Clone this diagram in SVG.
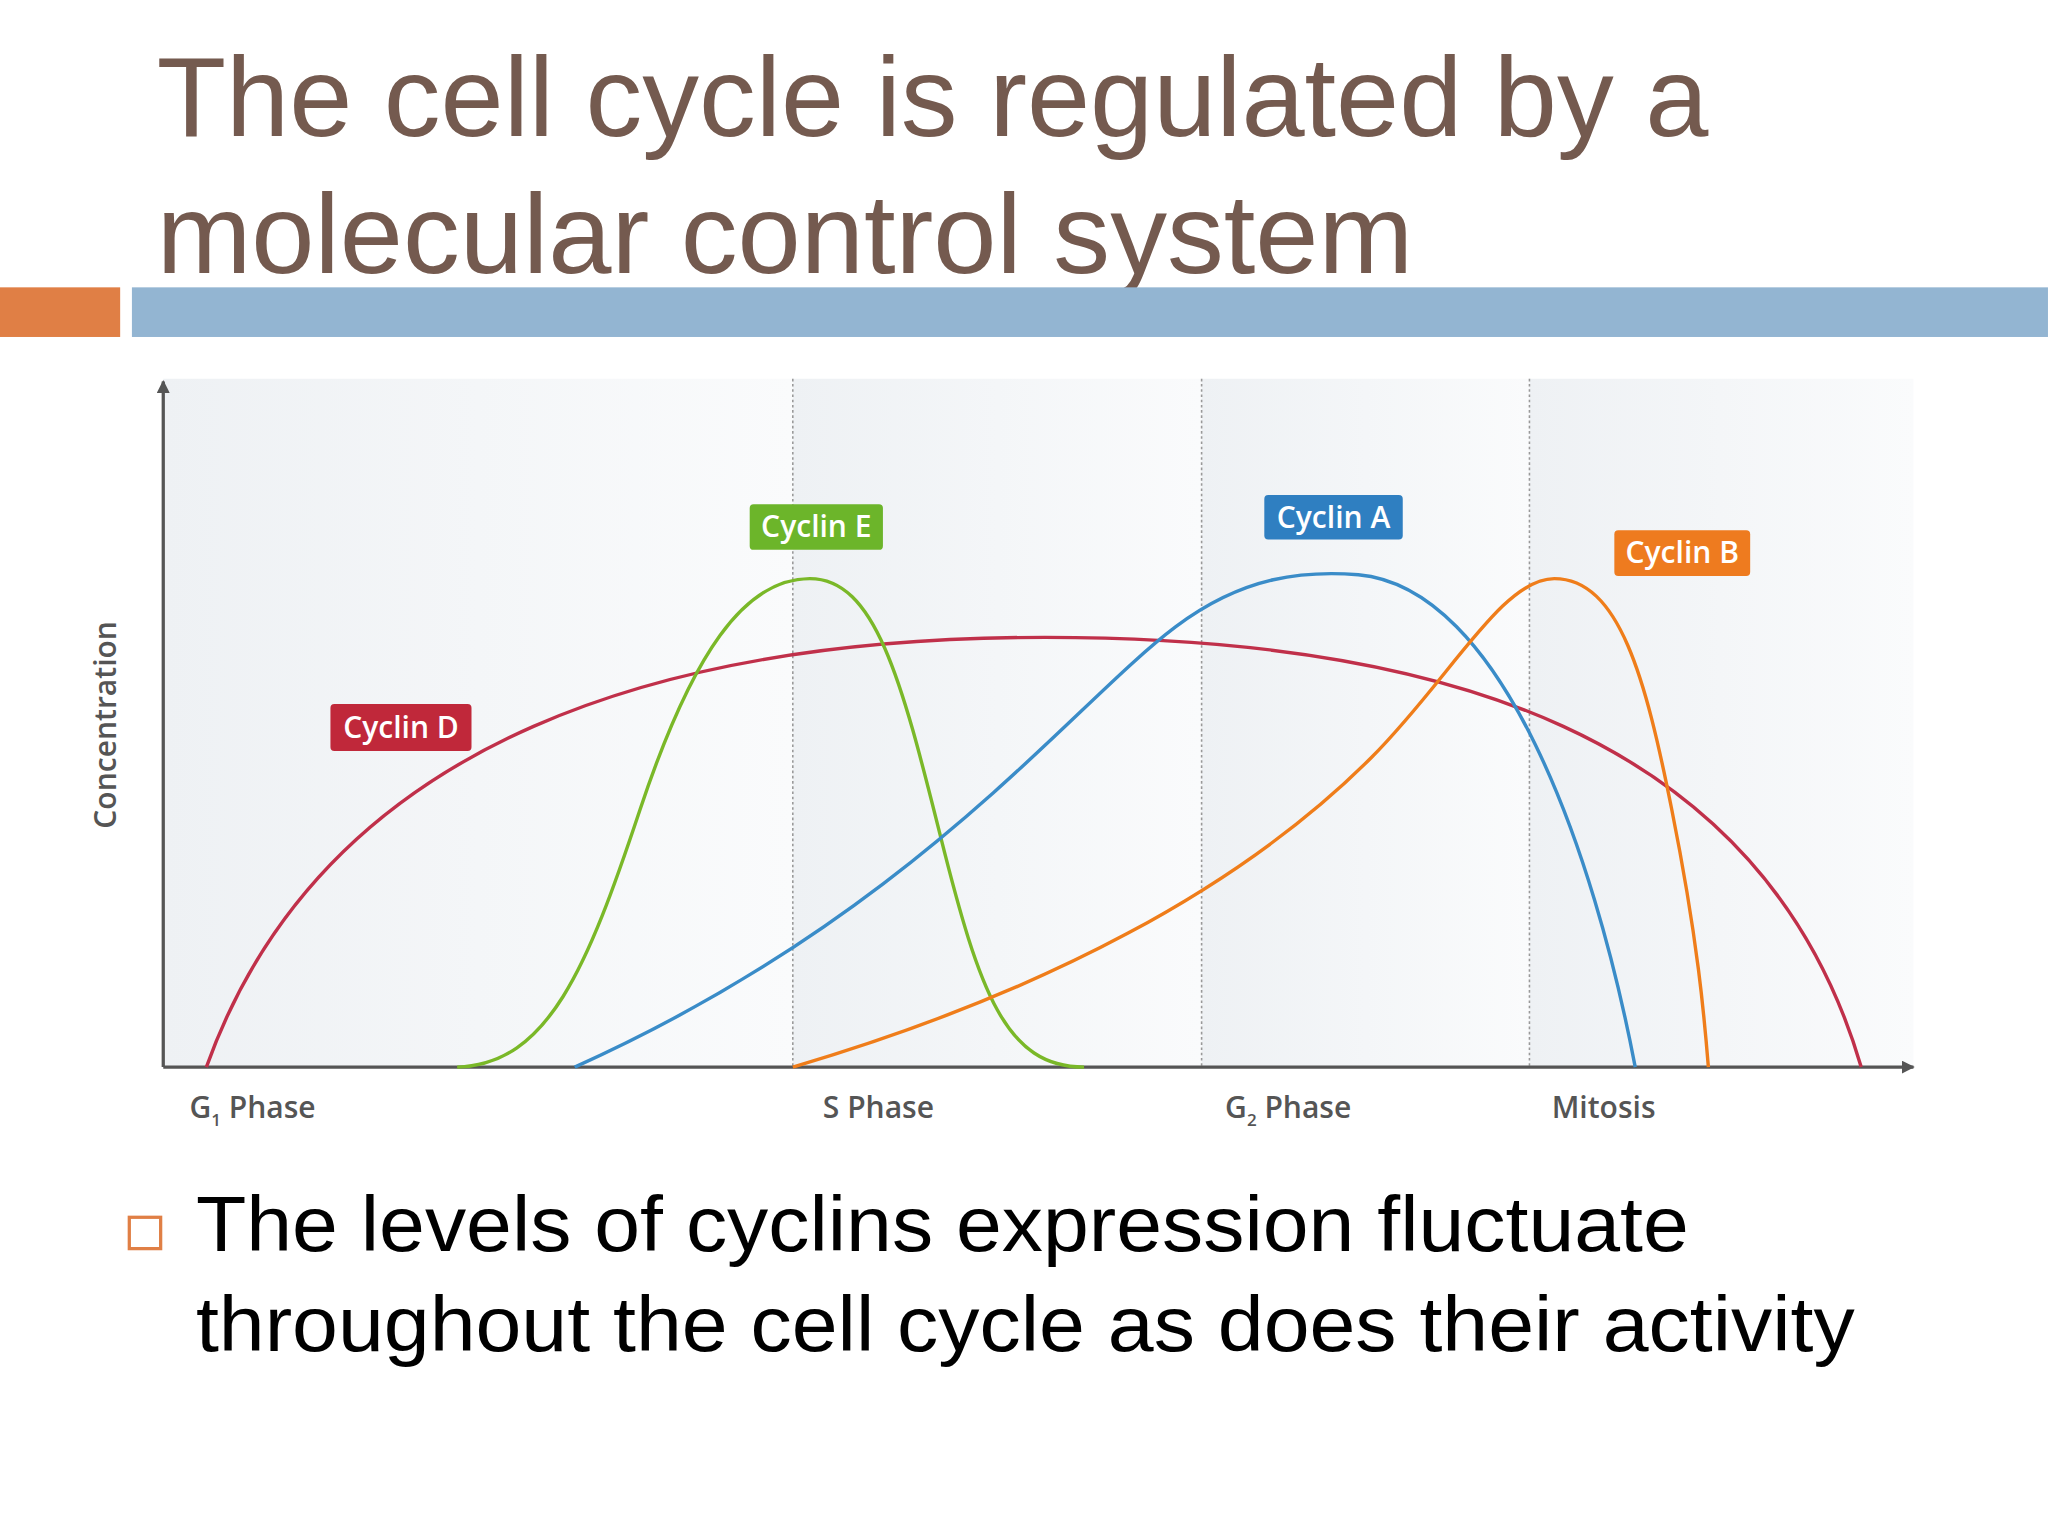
<svg xmlns="http://www.w3.org/2000/svg" width="2048" height="1536" viewBox="0 0 2048 1536">
<defs>
<style>
.title{font-family:"Liberation Sans",Arial,sans-serif;font-size:86px;fill:#745a4f}
.ax{font-family:"Open Sans","DejaVu Sans",sans-serif;font-size:23px;fill:#555;font-weight:600}
.lab{font-family:"Open Sans","DejaVu Sans",sans-serif;font-size:23px;fill:#fff;font-weight:600}
.body{font-family:"Liberation Sans",Arial,sans-serif;font-size:59px;fill:#000}
.curve{fill:none;stroke-width:2.6}
</style>
<linearGradient id="bg" x1="0" y1="0" x2="1" y2="0">
<stop offset="0" stop-color="#eef1f4"/><stop offset="1" stop-color="#fafbfc"/>
</linearGradient>
<marker id="ar" markerWidth="10" markerHeight="10" refX="9" refY="5" orient="auto" markerUnits="userSpaceOnUse">
<path d="M0,0 L10,5 L0,10 z" fill="#555"/>
</marker>
</defs>
<rect width="2048" height="1536" fill="#fff"/>
<g transform="scale(1.3061)">
<g id="title">
<text class="title" x="120" y="104" textLength="1188" lengthAdjust="spacingAndGlyphs">The cell cycle is regulated by a</text>
<text class="title" x="120" y="209" textLength="962" lengthAdjust="spacingAndGlyphs">molecular control system</text>
</g>
<rect x="0" y="220" width="92" height="38" fill="#e07f45"/>
<rect x="101" y="220" width="1467" height="38" fill="#93b5d2"/>
<g id="chart">
<rect x="125" y="290" width="482" height="527" fill="url(#bg)"/>
<rect x="607" y="290" width="313" height="527" fill="url(#bg)"/>
<rect x="920" y="290" width="251" height="527" fill="url(#bg)"/>
<rect x="1171" y="290" width="294" height="527" fill="url(#bg)"/>
<g stroke="#999" stroke-width="1.2" stroke-dasharray="2,2">
<line x1="607" y1="290" x2="607" y2="817"/>
<line x1="920" y1="290" x2="920" y2="817"/>
<line x1="1171" y1="290" x2="1171" y2="817"/>
</g>
</g>
<g id="connectors">
<line x1="125" y1="817" x2="125" y2="292" stroke="#555" stroke-width="2.5" marker-end="url(#ar)"/>
<line x1="125" y1="817" x2="1465" y2="817" stroke="#555" stroke-width="2.5" marker-end="url(#ar)"/>
<path class="curve" stroke="#c0304a" d="M158,817 C250,560 520,488 800,488 C1100,488 1350,560 1425,817"/>
<path class="curve" stroke="#7ab828" d="M350,817 C420,815 450,740 490,620 C530,500 570,443 620,443 C670,443 690,520 720,640 C750,760 770,817 830,817"/>
<path class="curve" stroke="#3a8cc8" d="M440,817 C700,700 820,540 900,480 C953,440 1000,437 1040,440 C1150,450 1220,650 1252,817"/>
<path class="curve" stroke="#ef7d1a" d="M607,817 C800,760 950,680 1050,580 C1110,520 1150,443 1190,443 C1240,443 1260,520 1280,620 C1300,720 1305,780 1308,817"/>
</g>
<g id="cyclinE"><rect x="574" y="386" width="102" height="35" rx="3" fill="#6cb52a"/><text class="lab" x="625" y="411" text-anchor="middle">Cyclin E</text></g>
<g id="cyclinA"><rect x="968" y="379" width="106" height="34" rx="3" fill="#2f7fc1"/><text class="lab" x="1021" y="404" text-anchor="middle">Cyclin A</text></g>
<g id="cyclinB"><rect x="1236" y="406" width="104" height="35" rx="3" fill="#ee7b1f"/><text class="lab" x="1288" y="431" text-anchor="middle">Cyclin B</text></g>
<g id="cyclinD"><rect x="253" y="539" width="108" height="36" rx="3" fill="#c0283a"/><text class="lab" x="307" y="565" text-anchor="middle">Cyclin D</text></g>
<text class="ax" transform="translate(89,555) rotate(-90)" text-anchor="middle">Concentration</text>
<text class="ax" x="145" y="856">G<tspan font-size="13" dy="6">1</tspan><tspan dy="-6"> Phase</tspan></text>
<text class="ax" x="630" y="856">S Phase</text>
<text class="ax" x="938" y="856">G<tspan font-size="13" dy="6">2</tspan><tspan dy="-6"> Phase</tspan></text>
<text class="ax" x="1188" y="856">Mitosis</text>
<g id="bullet">
<rect x="99" y="932" width="24" height="24" fill="none" stroke="#e07f45" stroke-width="2.5"/>
<text class="body" x="150" y="958" textLength="1143" lengthAdjust="spacingAndGlyphs">The levels of cyclins expression fluctuate</text>
<text class="body" x="150" y="1034" textLength="1270" lengthAdjust="spacingAndGlyphs">throughout the cell cycle as does their activity</text>
</g>
</g>
</svg>
